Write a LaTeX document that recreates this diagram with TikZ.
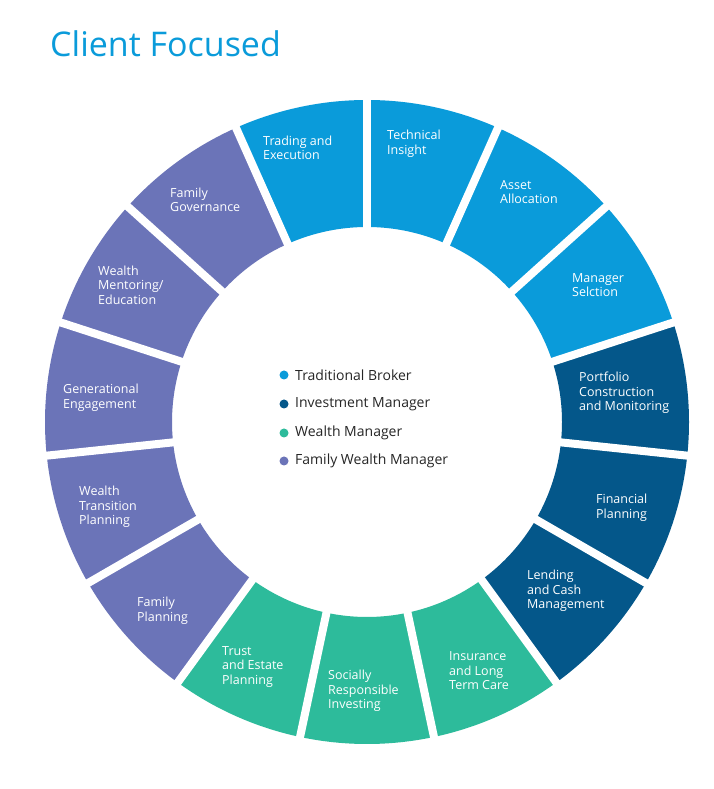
\documentclass[tikz,border=0pt]{standalone}
\usepackage{fontspec}
\setmainfont{Open Sans}
\definecolor{lb}{HTML}{0A9BDA}
\definecolor{db}{HTML}{04578A}
\definecolor{tl}{HTML}{2DBB9B}
\definecolor{pu}{HTML}{6B74B8}
\begin{document}
\begin{tikzpicture}[x=1pt,y=1pt,
  lab/.style={white,font=\fontsize{12.5}{14.5}\selectfont,align=left,inner sep=0},
  leg/.style={font=\fontsize{14}{16}\selectfont,anchor=west,inner sep=0,text=black!85}]
\useasboundingbox (0,0) rectangle (714,789);
\fill[white] (0,0) rectangle (714,789);
\node[anchor=west,text=lb,font=\fontsize{34}{38}\selectfont,inner sep=0] (title) at (50,745) {Client Focused};
\begin{scope}[shift={(367,367)}]
\def\R{322}\def\r{195}
\foreach \c [count=\k from 0] in {lb,lb,lb,db,db,db,tl,tl,tl,pu,pu,pu,pu,pu,lb}{
  \pgfmathsetmacro\aa{90-24*\k}
  \pgfmathsetmacro\ab{90-24*(\k+1)}
  \fill[\c] (\aa:\R) arc (\aa:\ab:\R) -- (\ab:\r) arc (\ab:\aa:\r) -- cycle;
}
\foreach \k in {0,...,14}{
  \pgfmathsetmacro\aa{90-24*\k}
  \draw[white,line width=8pt] (\aa:\r-5) -- (\aa:\R+5);
}
\end{scope}
\node[lab,anchor=west] (s1) at (387,645) {Technical\\Insight};
\node[lab,anchor=west] (s2) at (500,597) {Asset\\Allocation};
\node[lab,anchor=west] (s3) at (572,504) {Manager\\Selction};
\node[lab,anchor=west] (s4) at (579,396) {Portfolio\\Construction\\and Monitoring};
\node[lab,anchor=west] (s5) at (596,281) {Financial\\Planning};
\node[lab,anchor=west] (s6) at (527,198) {Lending\\and Cash\\Management};
\node[lab,anchor=west] (s7) at (449,118) {Insurance\\and Long\\Term Care};
\node[lab,anchor=west] (s8) at (328,98) {Socially\\Responsible\\Investing};
\node[lab,anchor=west] (s9) at (222,122) {Trust\\and Estate\\Planning};
\node[lab,anchor=west] (s10) at (137,178) {Family\\Planning};
\node[lab,anchor=west] (s11) at (79,282) {Wealth\\Transition\\Planning};
\node[lab,anchor=west] (s12) at (63,391) {Generational\\Engagement};
\node[lab,anchor=west] (s13) at (98,504) {Wealth\\Mentoring/\\Education};
\node[lab,anchor=west] (s14) at (170,589) {Family\\Governance};
\node[lab,anchor=west] (s15) at (263,641) {Trading and\\Execution};
\foreach \c/\t/\y [count=\i] in {lb/Traditional Broker/414, db/Investment Manager/385, tl/Wealth Manager/356, pu/Family Wealth Manager/328}{
  \fill[\c] (284,\y) circle (4.5);
  \node[leg] (l\i) at (295,\y) {\t};
}
\end{tikzpicture}
\end{document}
